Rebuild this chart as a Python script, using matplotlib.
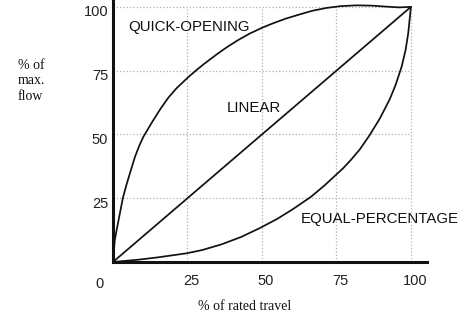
"""Control valve flow characteristics chart"""
import matplotlib
matplotlib.use("Agg")
import matplotlib.pyplot as plt
from matplotlib.transforms import ScaledTranslation

# ── data ──
ticks = [25, 50, 75, 100]

linear_x = [0, 100]
linear_y = [0, 100]

quick_x = [0, 0.6, 1.3, 2.3, 3.3, 4.5, 6, 7.4, 8.8, 10.2, 13, 15.8, 18.5, 21.4,
           25.3, 28, 30.3, 33, 35.3, 38.1, 42, 46, 50, 53.8, 58, 62.8, 67,
           71.7, 76.5, 81.7, 86.7, 91.8, 96, 100]
quick_y = [0, 8.6, 13, 19, 25, 30.2, 36, 41.3, 45.5, 49.1, 54.6, 59.8, 64.3, 68.2,
           72.5, 75.2, 77.4, 79.8, 81.8, 84.1, 87.0, 89.6, 91.8, 93.6, 95.4, 97.1, 98.5,
           99.6, 100.3, 100.6, 100.5, 100.1, 99.8, 100]

equal_x = [0, 8.5, 15, 24.7, 30, 36.4, 43, 49.3, 55, 60.5, 66.4, 71, 77.3,
           80, 82.9, 86.2, 89.6, 92.9, 94.8, 96.9, 98.2, 99.1, 100]
equal_y = [0, 0.9, 1.8, 3.4, 4.7, 6.9, 9.8, 13.3, 16.8, 20.8, 25.5, 30.0, 36.8,
           40.2, 44.2, 49.8, 56.3, 63.8, 69.2, 76.6, 83, 89.6, 100]

sans = ["Liberation Sans", "DejaVu Sans"]
serif = ["Liberation Serif", "DejaVu Serif"]

fig = plt.figure(figsize=(4.74, 3.23), dpi=100)
ax = fig.add_axes([0.2384, 0.1889, 0.6624, 0.8111])

# dotted grid inside the 0-100 box
gs = dict(color="#b0b0b0", linestyle=":", linewidth=0.9, zorder=1)
ax.hlines(ticks, 0, 100, **gs)
ax.vlines(ticks, 0, 100, **gs)

lc = dict(color="#111111", linewidth=1.25, zorder=3,
          solid_capstyle="round", solid_joinstyle="round")
ax.plot(quick_x, quick_y, **lc)
ax.plot(linear_x, linear_y, **lc)
ax.plot(equal_x, equal_y, **lc)

ax.set_xlim(0, 105.4)
ax.set_ylim(0, 102.7)

for s in ["top", "right"]:
    ax.spines[s].set_visible(False)
for s in ["left", "bottom"]:
    ax.spines[s].set_linewidth(2.2)
    ax.spines[s].set_color("#111111")

ax.set_xticks(ticks)
ax.set_yticks(ticks)
ax.set_xticklabels([str(t) for t in ticks], family=sans, fontsize=10.5, color="#222222")
ax.set_yticklabels([str(t) for t in ticks], family=sans, fontsize=10.5, color="#222222")
ax.tick_params(axis="x", length=0, pad=8.5)
ax.tick_params(axis="y", length=0, pad=3.6)

# nudge tick labels like the original
for lab in ax.get_xticklabels():
    lab.set_transform(lab.get_transform() + ScaledTranslation(4 / 100, 0, fig.dpi_scale_trans))
for lab in ax.get_yticklabels():
    lab.set_transform(lab.get_transform() + ScaledTranslation(0, -4 / 100, fig.dpi_scale_trans))

# shared origin label
ax.annotate("0", (0, 0), xytext=(-9.4, -15.5), textcoords="offset points",
            ha="center", va="center", family=sans, fontsize=10.5, color="#222222",
            annotation_clip=False)

# curve names
ax.text(5.0, 92.2, "QUICK-OPENING", ha="left", va="center", family=sans, fontsize=10.8, color="#111111")
ax.text(38.3, 60.4, "LINEAR", ha="left", va="center", family=sans, fontsize=10.8, color="#111111")
ax.text(63.1, 16.9, "EQUAL-PERCENTAGE", ha="left", va="center", family=sans, fontsize=10.8, color="#111111")

# axis labels in serif
fig.text(18 / 474, 1 - 81 / 323, "% of\nmax.\nflow", ha="left", va="center",
         family=serif, fontsize=10, linespacing=1.25, color="#111111")
fig.text(245 / 474, 1 - 307 / 323, "% of rated travel", ha="center", va="center",
         family=serif, fontsize=10, color="#111111")

fig.savefig("out.png", dpi=100)
